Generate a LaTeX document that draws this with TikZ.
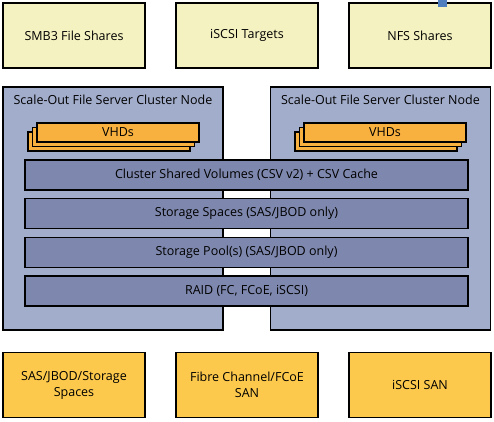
\documentclass[tikz,border=0pt]{standalone}
\usepackage{fontspec}
\setmainfont{Open Sans}
\definecolor{paleyellow}{HTML}{F4F2C0}
\definecolor{panelblue}{HTML}{A2ADCB}
\definecolor{barblue}{HTML}{7E87AD}
\definecolor{vhdorange}{HTML}{F8B13F}
\definecolor{sanorange}{HTML}{FCC94D}
\definecolor{markblue}{HTML}{4F7FBF}
\begin{document}
\begin{tikzpicture}[x=1pt, y=-1pt,
		box/.style={draw, line width=1.6pt, minimum width=142pt, minimum height=65pt, align=center, inner sep=2pt, font=\fontsize{12.5}{16}\selectfont},
		panel/.style={draw, line width=1.6pt, fill=panelblue, minimum width=220pt, minimum height=243pt},
		layer/.style={draw, line width=1.6pt, fill=barblue, minimum width=443pt, minimum height=30pt, font=\fontsize{12.5}{15}\selectfont},
		vhd/.style={draw, line width=1.6pt, fill=vhdorange, minimum width=162pt, minimum height=19pt, inner sep=0pt, font=\fontsize{12.5}{15}\selectfont}]
	\useasboundingbox (0,0) rectangle (494,421);
	% column centres
	\def\cols {74, 247, 420};
	% top row: shares
	\def\shares {SMB3 File Shares, iSCSI Targets, NFS Shares};
	\foreach \label [count=\index] in \shares
	{
		\pgfmathsetmacro{\cx}{{\cols}[\index-1]}
		\node[box, fill=paleyellow] (share_\index) at (\cx, 35.5) {\label};
	}
	\node[fill=markblue, minimum width=9pt, minimum height=7pt, inner sep=0pt] (mark) at (442, 3.5) {};
	% cluster nodes
	\node[panel] (node_1) at (113, 208.5) {};
	\node[panel] (node_2) at (380.5, 208.5) {};
	\foreach \index in {1,2}
	{
		\node[font=\fontsize{12.5}{15}\selectfont] (title_\index) at ([yshift=-14pt]node_\index.north) {Scale-Out File Server Cluster Node};
	}
	% VHD stacks
	\def\vhdx {118, 385};
	\foreach \cx [count=\index] in \vhdx
	{
		\node[vhd] (vhd_\index_c) at (\cx-9, 141.5) {};
		\node[vhd] (vhd_\index_b) at (\cx-4.5, 137) {};
		\node[vhd] (vhd_\index_a) at (\cx, 132.5) {VHDs};
	}
	% shared layers
	\def\layers {Cluster Shared Volumes (CSV v2) + CSV Cache,
		Storage Spaces (SAS/JBOD only),
		Storage Pool(s) (SAS/JBOD only),
		{RAID (FC, FCoE, iSCSI)}};
	\def\ys {175, 213.5, 252.5, 291};
	\foreach \label [count=\index] in \layers
	{
		\pgfmathsetmacro{\cy}{{\ys}[\index-1]}
		\node[layer] (layer_\index) at (246.5, \cy) {\label};
	}
	% bottom row: storage
	\def\stores {SAS/JBOD/Storage\\Spaces, Fibre Channel/FCoE\\SAN, iSCSI SAN};
	\foreach \label [count=\index] in \stores
	{
		\pgfmathsetmacro{\cx}{{\cols}[\index-1]}
		\node[box, fill=sanorange] (store_\index) at (\cx, 385) {\label};
	}
\end{tikzpicture}
\end{document}
